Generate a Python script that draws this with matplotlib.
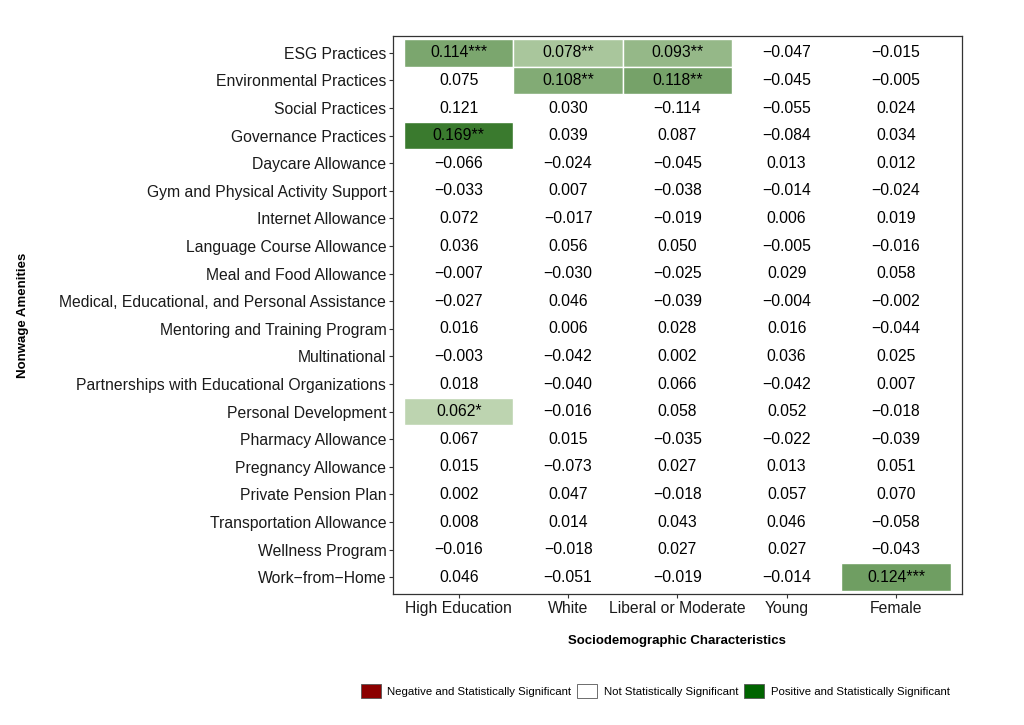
import numpy as np
import matplotlib
matplotlib.use("Agg")
import matplotlib.pyplot as plt
from matplotlib.colors import LinearSegmentedColormap
from matplotlib.patches import Patch

plt.rcParams['font.family'] = ['Liberation Sans', 'DejaVu Sans']

amenities = [
    "ESG Practices", "Environmental Practices", "Social Practices", "Governance Practices",
    "Daycare Allowance", "Gym and Physical Activity Support", "Internet Allowance",
    "Language Course Allowance", "Meal and Food Allowance",
    "Medical, Educational, and Personal Assistance", "Mentoring and Training Program",
    "Multinational", "Partnerships with Educational Organizations", "Personal Development",
    "Pharmacy Allowance", "Pregnancy Allowance", "Private Pension Plan",
    "Transportation Allowance", "Wellness Program", "Work\u2212from\u2212Home",
]
groups = ["High Education", "White", "Liberal or Moderate", "Young", "Female"]

coefs = [
    [0.114, 0.078, 0.093, -0.047, -0.015],
    [0.075, 0.108, 0.118, -0.045, -0.005],
    [0.121, 0.030, -0.114, -0.055, 0.024],
    [0.169, 0.039, 0.087, -0.084, 0.034],
    [-0.066, -0.024, -0.045, 0.013, 0.012],
    [-0.033, 0.007, -0.038, -0.014, -0.024],
    [0.072, -0.017, -0.019, 0.006, 0.019],
    [0.036, 0.056, 0.050, -0.005, -0.016],
    [-0.007, -0.030, -0.025, 0.029, 0.058],
    [-0.027, 0.046, -0.039, -0.004, -0.002],
    [0.016, 0.006, 0.028, 0.016, -0.044],
    [-0.003, -0.042, 0.002, 0.036, 0.025],
    [0.018, -0.040, 0.066, -0.042, 0.007],
    [0.062, -0.016, 0.058, 0.052, -0.018],
    [0.067, 0.015, -0.035, -0.022, -0.039],
    [0.015, -0.073, 0.027, 0.013, 0.051],
    [0.002, 0.047, -0.018, 0.057, 0.070],
    [0.008, 0.014, 0.043, 0.046, -0.058],
    [-0.016, -0.018, 0.027, 0.027, -0.043],
    [0.046, -0.051, -0.019, -0.014, 0.124],
]
stars = [
    ["***", "**", "**", "", ""],
    ["", "**", "**", "", ""],
    ["", "", "", "", ""],
    ["**", "", "", "", ""],
] + [["", "", "", "", ""] for _ in range(9)] + [
    ["*", "", "", "", ""],
] + [["", "", "", "", ""] for _ in range(5)] + [
    ["", "", "", "", "***"],
]

# white -> green gradient for significant positive cells
greens = LinearSegmentedColormap.from_list(
    "sig_green",
    [(0.0, "#ffffff"), (0.31, "#bdd4b0"), (0.57, "#7ba66e"), (0.845, "#3a7a2e"), (1.0, "#1f6418")])
vmax = 0.2

fig = plt.figure(figsize=(10.24, 7.25), dpi=100)
ax = fig.add_axes([0.384, 0.181, 0.555, 0.769])

n_rows = len(amenities)
for i, name in enumerate(amenities):
    y = n_rows - i
    for j, g in enumerate(groups):
        x = j + 1
        v = coefs[i][j]
        s = stars[i][j]
        if s:
            if v > 0:
                col = greens(min(v / vmax, 1.0))
            else:
                col = "#8b0000"
            ax.add_patch(plt.Rectangle((x - 0.5, y - 0.5), 1, 1, facecolor=col,
                                       edgecolor="white", linewidth=1.0, zorder=1))
        txt = f"{v:.3f}".replace("-", "\u2212") + s
        ax.text(x, y, txt, ha="center", va="center", fontsize=11.3, color="black", zorder=3)

ax.set_xlim(0.4, len(groups) + 0.6)
ax.set_ylim(0.4, n_rows + 0.6)
ax.set_xticks(np.arange(1, len(groups) + 1))
ax.set_xticklabels(groups)
ax.set_yticks(np.arange(n_rows, 0, -1))
ax.set_yticklabels(amenities)
ax.tick_params(axis="both", labelsize=11.3, length=3, width=0.8, color="#333333",
               labelcolor="#1a1a1a", pad=2)
for sp in ax.spines.values():
    sp.set_color("#333333")
    sp.set_linewidth(0.9)

ax.set_xlabel("Sociodemographic Characteristics", fontsize=9.5, fontweight="bold", labelpad=14)
ax.set_ylabel("Nonwage Amenities", fontsize=9.5, fontweight="bold")
ax.yaxis.set_label_coords(-0.64, 0.5)

handles = [
    Patch(facecolor="#8b0000", edgecolor="#555555", linewidth=0.6, label="Negative and Statistically Significant"),
    Patch(facecolor="white", edgecolor="#555555", linewidth=0.6, label="Not Statistically Significant"),
    Patch(facecolor="#006400", edgecolor="#555555", linewidth=0.6, label="Positive and Statistically Significant"),
]
fig.legend(handles=handles, loc="center", bbox_to_anchor=(0.64, 0.047), ncol=3, frameon=False,
           fontsize=8.2, handlelength=1.75, handleheight=1.6, handletextpad=0.6, columnspacing=0.5)

fig.savefig("out.png", dpi=100)
